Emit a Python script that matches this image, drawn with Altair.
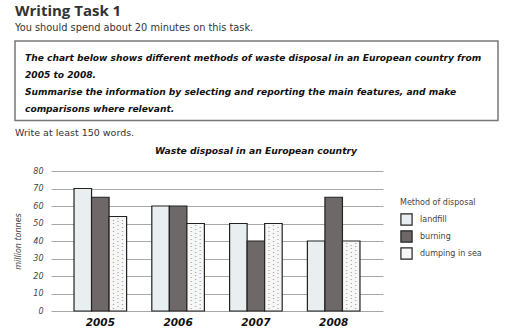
import altair as alt
import pandas as pd

years = ["2005", "2006", "2007", "2008"]
methods = ["landfill", "burning", "dumping in sea"]
landfill = [70, 60, 50, 40]
burning = [65, 60, 40, 65]
sea = [54, 50, 50, 40]
y_ticks = [0, 10, 20, 30, 40, 50, 60, 70, 80]
colors = ["#e9eef0", "#6f6868", "#f7f7f7"]

rows = []
for i, yr in enumerate(years):
    for m, vals in zip(methods, [landfill, burning, sea]):
        rows.append({"year": yr, "method": m, "value": vals[i]})
df = pd.DataFrame(rows)

FONT = "DejaVu Sans"
HFONT = "Open Sans"
L, T = 51, 171  # plot origin in page pixels

x_enc = alt.X("year:N", sort=years, title=None,
              scale=alt.Scale(paddingInner=0.324, paddingOuter=0.296),
              axis=alt.Axis(labelAngle=0, ticks=False, domain=False, labelPadding=6,
                            labelFontSize=10.5, labelFontWeight="bold", labelFontStyle="italic",
                            labelColor="#111", labelFont=FONT))
xo_enc = alt.XOffset("method:N", sort=methods,
                     scale=alt.Scale(domain=methods, paddingInner=0, paddingOuter=0))
y_axis = alt.Axis(values=y_ticks, grid=True, gridColor="#a8a8a8", gridWidth=1,
                  domain=False, ticks=False, labelPadding=8, labelOverlap=False,
                  labelFontSize=8, labelFontStyle="italic", labelColor="#444",
                  labelFont=FONT, titleFont=FONT, titleFontSize=8,
                  titleFontStyle="italic", titleFontWeight="normal",
                  titleColor="#444", titlePadding=10)
y_scale = alt.Scale(domain=[0, 80])

bars = alt.Chart(df).mark_bar(stroke="#222", strokeWidth=1.2).encode(
    x=x_enc, xOffset=xo_enc,
    y=alt.Y("value:Q", scale=y_scale, title="million tonnes", axis=y_axis),
    fill=alt.Fill("method:N", sort=methods,
                  scale=alt.Scale(domain=methods, range=colors),
                  legend=alt.Legend(title="Method of disposal", orient="none",
                                    legendX=400 - L, legendY=199 - T,
                                    symbolType="square", symbolSize=125,
                                    symbolStrokeColor="#222", symbolStrokeWidth=1.2,
                                    symbolOpacity=1, rowPadding=0,
                                    titleFont=FONT, titleFontSize=8, titleFontWeight="normal",
                                    titleColor="#444", titlePadding=6,
                                    labelFont=FONT, labelFontSize=8, labelColor="#444",
                                    labelOffset=7)),
)

def dots(start, off):
    return alt.Chart(df).transform_filter(
        alt.datum.method == "dumping in sea"
    ).transform_calculate(
        seq=f"sequence({start}, datum.value - 0.5, 2.2)"
    ).transform_flatten(["seq"]).mark_text(
        text="•", fontSize=3.8, color="#7a7a7a", dx=off, baseline="middle"
    ).encode(
        x=alt.X("year:N", sort=years), xOffset=xo_enc,
        y=alt.Y("seq:Q", scale=y_scale, title="million tonnes", axis=y_axis),
    )

one = alt.Data(values=[{}])

def txt(s, px, py, size=10, weight="normal", style="normal", color="#333", align="left", font=FONT):
    return alt.Chart(one).mark_text(
        text=s, font=font, fontSize=size, fontWeight=weight, fontStyle=style,
        color=color, align=align, baseline="alphabetic",
    ).encode(x=alt.value(px - L), y=alt.value(py - T))

box = alt.Chart(one).mark_rect(fill="white", fillOpacity=0, stroke="#777", strokeWidth=1.5).encode(
    x=alt.value(15 - L), x2=alt.value(498 - L), y=alt.value(41 - T), y2=alt.value(120.5 - T)
)

BI = dict(size=9.1, weight="bold", style="italic", color="#111")
texts = [
    txt("Writing Task 1", 15, 16, size=15, weight="bold", color="#333", font=HFONT),
    txt("You should spend about 20 minutes on this task.", 15, 31, size=9.8, color="#333"),
    txt("The chart below shows different methods of waste disposal in an European country from", 25, 61, **BI),
    txt("2005 to 2008.", 25, 78, **BI),
    txt("Summarise the information by selecting and reporting the main features, and make", 25, 95, **BI),
    txt("comparisons where relevant.", 25, 112, **BI),
    txt("Write at least 150 words.", 15, 136, size=9.5, color="#333"),
    txt("Waste disposal in an European country", 256, 154, size=9.2, weight="bold", style="italic", color="#111", align="center"),
]

chart = alt.layer(
    bars, dots(1.1, -4.5), dots(1.1, 4.5), dots(2.2, 0), box, *texts
).properties(
    width=332, height=140,
    padding={"left": L, "top": T, "right": 512 - L - 332, "bottom": 333 - T - 140},
    autosize=alt.AutoSizeParams(type="none"),
    background="white",
).configure_view(stroke=None)

chart.save("out.html", embed_options={"renderer": "svg", "actions": False})
